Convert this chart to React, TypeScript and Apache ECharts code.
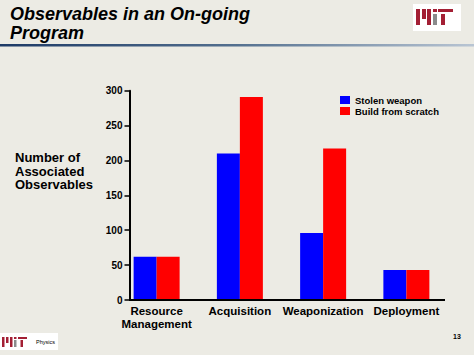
import React, { useEffect, useRef } from "react";
import * as echarts from "echarts";

const categories = ["Resource\nManagement", "Acquisition", "Weaponization", "Deployment"];
const stolenWeapon = [62, 210, 96, 43];
const buildFromScratch = [62, 291, 217, 43];
const seriesNames = ["Stolen weapon", "Build from scratch"];
const yTicks = { min: 0, max: 300, interval: 50 };

const FONT = "'Liberation Sans', Arial, sans-serif";
const MIT_RED = "#a31f34";

export default function App() {
  const ref = useRef<HTMLDivElement>(null);
  useEffect(() => {
    if (!ref.current) return;
    const chart = echarts.init(ref.current, undefined, { renderer: "svg" });
    chart.setOption({
      animation: false,
      backgroundColor: "#ecebe4",
      textStyle: { fontFamily: FONT },
      grid: { left: 115, right: 26, top: 90.7, bottom: 55, containLabel: false },
      legend: {
        left: 340,
        top: 95,
        padding: 0,
        orient: "vertical",
        itemWidth: 10,
        itemHeight: 8,
        itemGap: 1,
        itemTextGap: 4,
        itemStyle: { borderWidth: 0 },
        icon: "rect",
        textStyle: { fontFamily: FONT, fontSize: 9.5, fontWeight: "bold", color: "#000" },
        data: seriesNames,
      },
      xAxis: {
        type: "category",
        data: categories,
        axisLine: { show: false },
        axisTick: { show: false },
        axisLabel: {
          color: "#000",
          fontFamily: FONT,
          fontSize: 11.5,
          fontWeight: "bold",
          lineHeight: 12.5,
          margin: 5,
          interval: 0,
        },
      },
      yAxis: {
        type: "value",
        min: yTicks.min,
        max: yTicks.max,
        interval: yTicks.interval,
        offset: -14.5,
        axisLine: { show: true, lineStyle: { color: "#000", width: 2 } },
        axisTick: { show: true, inside: false, length: 5, lineStyle: { color: "#000", width: 1.5 } },
        splitLine: { show: false },
        axisLabel: { color: "#000", fontFamily: FONT, fontSize: 10, fontWeight: "bold", margin: 7 },
      },
      series: [
        {
          name: seriesNames[0],
          type: "bar",
          data: stolenWeapon,
          barWidth: 23,
          barGap: "0%",
          itemStyle: { color: "#0000ff" },
        },
        {
          name: seriesNames[1],
          type: "bar",
          data: buildFromScratch,
          barWidth: 23,
          barGap: "0%",
          itemStyle: { color: "#ff0000" },
        },
      ],
      graphic: [
        // x axis baseline
        { type: "line", shape: { x1: 129, y1: 300, x2: 445, y2: 300 }, style: { stroke: "#000", lineWidth: 2 }, z: 10 },
        // title
        {
          type: "text",
          left: 10,
          top: 4,
          style: {
            text: "Observables in an On-going\nProgram",
            fontFamily: FONT,
            fontSize: 18,
            fontWeight: "bold",
            fontStyle: "italic",
            lineHeight: 19,
            fill: "#000",
          },
        },
        // title underline
        {
          type: "rect",
          shape: { x: 0, y: 44, width: 474, height: 2.5 },
          style: {
            fill: new echarts.graphic.LinearGradient(0, 0, 1, 0, [
              { offset: 0, color: "#1d3a66" },
              { offset: 0.5, color: "#54708f" },
              { offset: 1, color: "#b9c5d3" },
            ]),
          },
        },
        // y axis name
        {
          type: "text",
          left: 15,
          top: 151,
          style: {
            text: "Number of\nAssociated\nObservables",
            fontFamily: FONT,
            fontSize: 13,
            fontWeight: "bold",
            lineHeight: 13.5,
            fill: "#000",
          },
        },
        // MIT logo top right
        { type: "rect", shape: { x: 413, y: 4, width: 48, height: 27 }, style: { fill: "#ffffff" } },
        { type: "rect", shape: { x: 416, y: 9, width: 4, height: 16 }, style: { fill: MIT_RED } },
        { type: "rect", shape: { x: 422, y: 9, width: 4, height: 10 }, style: { fill: MIT_RED } },
        { type: "rect", shape: { x: 427, y: 9, width: 4, height: 16 }, style: { fill: MIT_RED } },
        { type: "rect", shape: { x: 433, y: 9, width: 4, height: 3 }, style: { fill: MIT_RED } },
        { type: "rect", shape: { x: 433, y: 14, width: 4, height: 11 }, style: { fill: "#8a8b8c" } },
        { type: "rect", shape: { x: 438, y: 9, width: 15, height: 3 }, style: { fill: MIT_RED } },
        { type: "rect", shape: { x: 441, y: 14, width: 4, height: 11 }, style: { fill: MIT_RED } },
        // MIT Physics logo bottom left
        { type: "rect", shape: { x: 0, y: 333, width: 58, height: 17 }, style: { fill: "#ffffff" } },
        { type: "rect", shape: { x: 2, y: 337, width: 2.5, height: 10 }, style: { fill: MIT_RED } },
        { type: "rect", shape: { x: 6, y: 337, width: 2.5, height: 6 }, style: { fill: MIT_RED } },
        { type: "rect", shape: { x: 10, y: 337, width: 2.5, height: 10 }, style: { fill: MIT_RED } },
        { type: "rect", shape: { x: 14, y: 337, width: 2.5, height: 2 }, style: { fill: MIT_RED } },
        { type: "rect", shape: { x: 14, y: 340, width: 2.5, height: 7 }, style: { fill: "#8a8b8c" } },
        { type: "rect", shape: { x: 18, y: 337, width: 9, height: 2 }, style: { fill: MIT_RED } },
        { type: "rect", shape: { x: 20.5, y: 340, width: 2.5, height: 7 }, style: { fill: MIT_RED } },
        {
          type: "text",
          left: 36,
          top: 339,
          style: { text: "Physics", fontFamily: FONT, fontSize: 5.5, fill: "#000" },
        },
        // page number
        {
          type: "text",
          left: 453,
          top: 333,
          style: { text: "13", fontFamily: FONT, fontSize: 7, fontWeight: "bold", fill: "#000" },
        },
      ],
    });
    return () => chart.dispose();
  }, []);
  return (
    <div
      ref={ref}
      style={{ position: "fixed", left: 0, top: 0, width: 474, height: 355 }}
    />
  );
}
